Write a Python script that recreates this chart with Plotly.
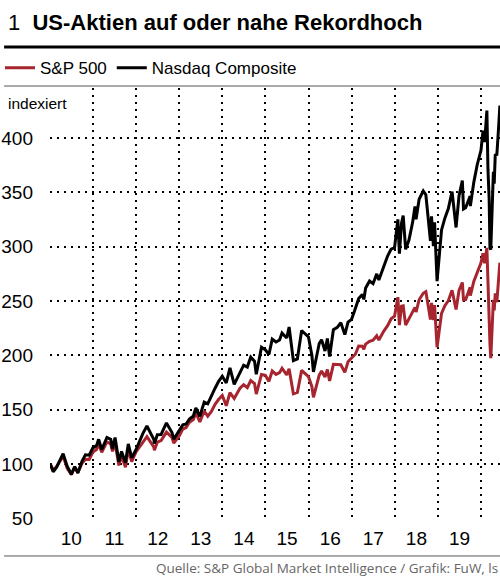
import plotly.graph_objects as go

# dates (monthly turns plus visible highs and lows)
dates = [
    "2010-01-04", "2010-01-29", "2010-02-26", "2010-03-31", "2010-04-23", "2010-05-28",
    "2010-07-02", "2010-07-30", "2010-08-26", "2010-09-30", "2010-10-29", "2010-11-30", "2010-12-31",
    "2011-01-31", "2011-02-18", "2011-03-16", "2011-04-29", "2011-05-31", "2011-06-15",
    "2011-07-07", "2011-08-08", "2011-08-31", "2011-10-03", "2011-10-27", "2011-11-25", "2011-12-30",
    "2012-01-31", "2012-02-29", "2012-04-02", "2012-05-31", "2012-06-04", "2012-06-29",
    "2012-07-31", "2012-09-14", "2012-10-31", "2012-11-15", "2012-12-31",
    "2013-01-31", "2013-02-28", "2013-03-28", "2013-04-30", "2013-05-21", "2013-06-24",
    "2013-07-31", "2013-08-30", "2013-09-30", "2013-10-31", "2013-11-29", "2013-12-31",
    "2014-02-03", "2014-03-06", "2014-04-11", "2014-05-30", "2014-06-30", "2014-07-31",
    "2014-08-29", "2014-09-30", "2014-10-15", "2014-11-28", "2014-12-31",
    "2015-01-30", "2015-02-27", "2015-03-31", "2015-04-30", "2015-05-21", "2015-06-30",
    "2015-07-20", "2015-08-25", "2015-09-28", "2015-11-03", "2015-12-31",
    "2016-01-29", "2016-02-11", "2016-03-31", "2016-04-20", "2016-05-19", "2016-06-08",
    "2016-06-27", "2016-07-29", "2016-08-31", "2016-09-30", "2016-11-03", "2016-11-30", "2016-12-30",
    "2017-01-31", "2017-02-28", "2017-03-31", "2017-04-13", "2017-04-28", "2017-05-31",
    "2017-06-30", "2017-07-31", "2017-08-18", "2017-09-29", "2017-10-31", "2017-11-30", "2017-12-29",
    "2018-01-26", "2018-02-08", "2018-02-26", "2018-03-12", "2018-04-02", "2018-04-30",
    "2018-05-31", "2018-06-20", "2018-06-29", "2018-07-25", "2018-08-29", "2018-09-20",
    "2018-10-29", "2018-11-07", "2018-11-23", "2018-12-03", "2018-12-24",
    "2019-01-31", "2019-02-28", "2019-03-29", "2019-04-30", "2019-06-03", "2019-06-28",
    "2019-07-26", "2019-08-05", "2019-08-23", "2019-09-30", "2019-10-02", "2019-10-31",
    "2019-11-29", "2019-12-31",
    "2020-01-17", "2020-01-31", "2020-02-19", "2020-02-28", "2020-03-09", "2020-03-16",
    "2020-03-23", "2020-04-14", "2020-04-21", "2020-04-30", "2020-05-13", "2020-05-29",
    "2020-06-05", "2020-06-08",
]

sp500 = [
    100.0, 94.8, 97.5, 103.2, 107.4, 96.2,
    90.3, 97.2, 92.4, 100.7, 104.4, 104.2, 111.0,
    113.5, 118.5, 110.9, 120.4, 118.7, 111.7,
    119.4, 98.8, 107.6, 97.0, 113.4, 102.3, 111.0,
    115.8, 120.5, 125.2, 115.6, 112.8, 120.2,
    121.7, 129.4, 124.6, 119.4, 125.9,
    132.2, 133.7, 138.5, 141.0, 147.3, 138.8,
    148.8, 144.1, 148.4, 155.0, 159.4, 163.1,
    153.7, 165.7, 160.3, 169.8, 173.0, 170.4,
    176.8, 174.1, 164.4, 182.5, 181.7,
    176.1, 185.7, 182.5, 184.1, 188.1, 182.1,
    187.8, 164.8, 166.1, 186.2, 180.4,
    171.2, 161.4, 181.8, 185.6, 180.1, 187.0,
    176.6, 191.8, 191.6, 191.4, 184.4, 194.1, 197.6,
    201.1, 208.6, 208.5, 205.6, 210.4, 212.9,
    213.9, 218.0, 214.1, 222.4, 227.3, 233.7, 236.0,
    253.6, 227.8, 245.3, 245.6, 227.9, 233.7,
    238.8, 244.2, 239.9, 251.2, 257.2, 258.7,
    233.1, 248.4, 232.4, 246.3, 207.5,
    238.7, 245.8, 250.2, 260.0, 242.2, 259.7,
    267.1, 251.1, 251.3, 262.7, 254.9, 268.1,
    277.2, 285.2,
    293.9, 284.7, 298.9, 260.7, 242.4, 210.6,
    197.5, 251.2, 241.5, 257.1, 248.9, 268.7,
    281.9, 285.3,
]

nasdaq = [
    100.0, 93.0, 97.0, 103.9, 109.6, 97.8,
    90.6, 97.7, 91.8, 102.6, 108.6, 108.2, 114.9,
    117.0, 122.8, 113.4, 124.5, 122.8, 114.0,
    124.4, 102.1, 111.7, 101.2, 118.6, 105.8, 112.9,
    121.9, 128.5, 135.1, 122.5, 119.0, 127.1,
    127.3, 137.9, 129.0, 122.9, 130.8,
    136.1, 136.9, 141.5, 144.2, 151.7, 143.9,
    157.1, 155.5, 163.4, 169.8, 175.9, 180.9,
    174.6, 188.5, 173.3, 183.8, 191.0, 189.3,
    198.4, 194.7, 182.6, 207.6, 205.2,
    200.8, 215.0, 212.3, 214.1, 220.5, 216.0,
    226.1, 195.2, 196.8, 222.9, 216.9,
    199.9, 184.8, 211.0, 214.4, 204.1, 215.5,
    199.0, 223.6, 225.8, 230.1, 219.1, 230.6, 233.2,
    243.2, 252.4, 256.1, 251.5, 262.0, 268.5,
    266.0, 275.0, 269.3, 281.4, 291.4, 297.8, 299.1,
    325.2, 293.6, 321.5, 328.7, 297.6, 306.1,
    322.4, 337.1, 325.3, 343.6, 351.3, 347.8,
    305.4, 328.0, 300.6, 322.4, 268.3,
    315.4, 326.3, 334.8, 350.7, 317.7, 346.8,
    360.9, 334.7, 335.8, 346.5, 337.3, 359.2,
    375.4, 388.7,
    406.7, 396.4, 425.3, 371.1, 344.4, 299.1,
    297.2, 368.9, 358.0, 385.1, 384.0, 411.1,
    425.1, 429.9,
]

y_ticks = [50, 100, 150, 200, 250, 300, 350, 400]
year_mid = ["2010-07-02", "2011-07-02", "2012-07-02", "2013-07-02", "2014-07-02",
            "2015-07-02", "2016-07-02", "2017-07-02", "2018-07-02", "2019-07-02"]
year_labels = ["10", "11", "12", "13", "14", "15", "16", "17", "18", "19"]

sans = "Liberation Sans, Arial, sans-serif"
red = "#a7252f"

fig = go.Figure()
fig.add_trace(go.Scatter(x=dates, y=sp500, mode="lines", name="S&P 500",
                         line=dict(color=red, width=3)))
fig.add_trace(go.Scatter(x=dates, y=nasdaq, mode="lines", name="Nasdaq Composite",
                         line=dict(color="black", width=3)))

fig.update_layout(
    width=500, height=576,
    margin=dict(l=46, r=0, t=88, b=57),
    paper_bgcolor="white", plot_bgcolor="white",
    font=dict(family=sans, size=18, color="black"),
    showlegend=True,
    legend=dict(orientation="h", x=-0.112, xanchor="left", y=1.046, yanchor="middle",
                font=dict(family=sans, size=17), itemwidth=30,
                bgcolor="rgba(0,0,0,0)", tracegroupgap=0),
    xaxis=dict(
        type="date", range=["2010-01-02", "2020-06-09"],
        tickmode="array", tickvals=year_mid, ticktext=year_labels,
        showgrid=False, zeroline=False, showline=False, ticks="",
        ticklabelstandoff=6, tickfont=dict(family=sans, size=19),
        minor=dict(tick0="2011-01-01", dtick="M12", showgrid=True,
                   gridcolor="black", gridwidth=2, griddash="2px,5px", ticks=""),
    ),
    yaxis=dict(
        range=[49.5, 446], tickmode="array", tickvals=y_ticks,
        showgrid=True, gridcolor="black", gridwidth=2, griddash="2px,5px",
        zeroline=False, showline=False, ticks="", ticklabelstandoff=16,
        tickfont=dict(family=sans, size=19),
    ),
)

# rules above and below the chart
fig.add_shape(type="line", xref="paper", yref="paper", x0=-0.102, x1=1, y0=1.095, y1=1.095,
              line=dict(color="black", width=3))
fig.add_shape(type="line", xref="paper", yref="paper", x0=-0.102, x1=1, y0=1.0046, y1=1.0046,
              line=dict(color="#555555", width=1))
fig.add_shape(type="line", xref="paper", yref="paper", x0=-0.102, x1=1, y0=-0.0858, y1=-0.0858,
              line=dict(color="#555555", width=1))

fig.add_annotation(text="1  <b>US-Aktien auf oder nahe Rekordhoch</b>", xref="paper", yref="paper",
                   x=-0.098, y=1.153, xanchor="left", yanchor="middle", showarrow=False,
                   font=dict(family=sans, size=22, color="black"))
fig.add_annotation(text="indexiert", xref="paper", yref="paper",
                   x=-0.097, y=0.965, xanchor="left", yanchor="middle", showarrow=False,
                   font=dict(family=sans, size=15.5, color="black"))
fig.add_annotation(text="Quelle: S&P Global Market Intelligence / Grafik: FuW, ls",
                   xref="paper", yref="paper", x=1, y=-0.114, xanchor="right", yanchor="middle",
                   showarrow=False, font=dict(family="Open Sans, DejaVu Sans, sans-serif",
                                              size=13.5, color="#666666"))

fig.write_html("out.html", config={"displayModeBar": False},
               post_script="document.body.style.margin='0';document.body.style.overflow='hidden';")
